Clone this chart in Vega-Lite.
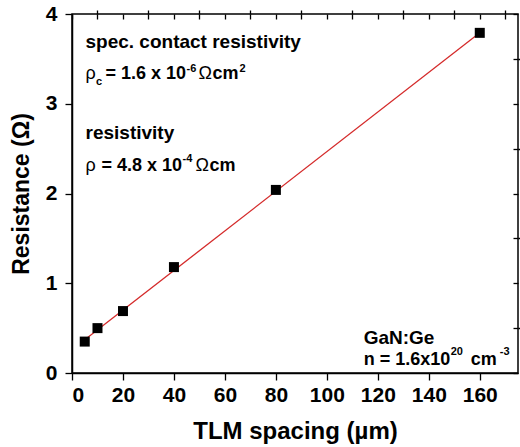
{
  "$schema": "https://vega.github.io/schema/vega-lite/v6.json",
  "width": 446,
  "height": 359,
  "autosize": "none",
  "padding": {"left": 72, "top": 14, "right": 2, "bottom": 74},
  "background": "white",
  "config": {
    "view": {"stroke": "black", "strokeWidth": 1.5},
    "font": "Liberation Sans",
    "axis": {
      "grid": false,
      "domainColor": "black",
      "domainWidth": 1.5,
      "tickColor": "black",
      "tickWidth": 1.3,
      "labelFont": "Liberation Sans",
      "labelFontWeight": "bold",
      "labelFontSize": 21,
      "labelColor": "black",
      "titleFont": "Liberation Sans",
      "titleFontWeight": "bold",
      "titleFontSize": 23,
      "titleColor": "black"
    }
  },
  "datasets": {
    "tlm": [
      {"spacing": 5, "resistance": 0.35},
      {"spacing": 10, "resistance": 0.5},
      {"spacing": 20, "resistance": 0.69},
      {"spacing": 40, "resistance": 1.18},
      {"spacing": 80, "resistance": 2.04},
      {"spacing": 160, "resistance": 3.79}
    ],
    "fit": [
      {"spacing": 5, "resistance": 0.37},
      {"spacing": 160, "resistance": 3.79}
    ],
    "head": [
      {"x": 5.3, "y": 3.62, "t": "spec. contact resistivity"},
      {"x": 5.3, "y": 2.61, "t": "resistivity"},
      {"x": 114.45, "y": 0.32, "t": "GaN:Ge"}
    ],
    "formula": [
      {"x": 13.15, "y": 3.273, "t": "= 1.6 x 10"},
      {"x": 55.16, "y": 3.273, "t": "cm"},
      {"x": 11.58, "y": 2.255, "t": "= 4.8 x 10"},
      {"x": 53.99, "y": 2.255, "t": "cm"},
      {"x": 114.45, "y": 0.094, "t": "n = 1.6x10"},
      {"x": 156.46, "y": 0.094, "t": "cm"}
    ],
    "symbols": [
      {"x": 5.3, "y": 3.273, "t": "ρ"},
      {"x": 49.67, "y": 3.273, "t": "Ω"},
      {"x": 5.3, "y": 2.255, "t": "ρ"},
      {"x": 48.49, "y": 2.255, "t": "Ω"}
    ],
    "small": [
      {"x": 9.42, "y": 3.206, "t": "c"},
      {"x": 44.96, "y": 3.352, "t": "-6"},
      {"x": 65.76, "y": 3.352, "t": "2"},
      {"x": 43.39, "y": 2.355, "t": "-4"},
      {"x": 148.6, "y": 0.205, "t": "20"},
      {"x": 167.85, "y": 0.205, "t": "-3"}
    ]
  },
  "resolve": {"axis": {"x": "independent", "y": "independent"}},
  "layer": [
    {
      "data": {"name": "fit"},
      "mark": {"type": "line", "color": "#d42a2a", "strokeWidth": 1.3},
      "encoding": {
        "x": {
          "field": "spacing", "type": "quantitative",
          "scale": {"domain": [0, 175], "nice": false, "zero": false},
          "axis": {"title": "TLM spacing (µm)", "values": [0, 20, 40, 60, 80, 100, 120, 140, 160], "tickSize": 7, "labelPadding": 4, "titlePadding": 14, "titleFontSize": 24}
        },
        "y": {
          "field": "resistance", "type": "quantitative",
          "scale": {"domain": [0, 4], "nice": false, "zero": false},
          "axis": {"title": "Resistance (Ω)", "values": [0, 1, 2, 3, 4], "tickSize": 7, "labelPadding": 8, "titlePadding": 12}
        }
      }
    },
    {
      "data": {"name": "tlm"},
      "mark": {"type": "square", "size": 100, "color": "black", "opacity": 1, "filled": true},
      "encoding": {
        "x": {
          "field": "spacing", "type": "quantitative",
          "axis": {"title": null, "labels": false, "domain": false, "values": [10, 30, 50, 70, 90, 110, 130, 150, 170], "tickSize": 4}
        },
        "y": {
          "field": "resistance", "type": "quantitative",
          "axis": {"title": null, "labels": false, "domain": false, "values": [0.5, 1.5, 2.5, 3.5], "tickSize": 4}
        }
      }
    },
    {
      "data": {"name": "head"},
      "mark": {"type": "text", "align": "left", "baseline": "alphabetic", "fontSize": 19, "fontWeight": "bold", "color": "black", "font": "Liberation Sans"},
      "encoding": {
        "x": {
          "field": "x", "type": "quantitative",
          "axis": {"orient": "top", "title": null, "labels": false, "domain": false, "values": [0, 10, 20, 30, 40, 50, 60, 70, 80, 90, 100, 110, 120, 130, 140, 150, 160, 170], "tickSize": -5}
        },
        "y": {
          "field": "y", "type": "quantitative",
          "axis": {"orient": "right", "title": null, "labels": false, "domain": false, "values": [0, 0.5, 1, 1.5, 2, 2.5, 3, 3.5, 4], "tickSize": -5}
        },
        "text": {"field": "t"}
      }
    },
    {
      "data": {"name": "formula"},
      "mark": {"type": "text", "align": "left", "baseline": "alphabetic", "fontSize": 18, "fontWeight": "bold", "color": "black", "font": "Liberation Sans"},
      "encoding": {
        "x": {"field": "x", "type": "quantitative", "axis": null},
        "y": {"field": "y", "type": "quantitative", "axis": null},
        "text": {"field": "t"}
      }
    },
    {
      "data": {"name": "symbols"},
      "mark": {"type": "text", "align": "left", "baseline": "alphabetic", "fontSize": 18, "fontWeight": "normal", "color": "black", "font": "Liberation Sans"},
      "encoding": {
        "x": {"field": "x", "type": "quantitative", "axis": null},
        "y": {"field": "y", "type": "quantitative", "axis": null},
        "text": {"field": "t"}
      }
    },
    {
      "data": {"name": "small"},
      "mark": {"type": "text", "align": "left", "baseline": "alphabetic", "fontSize": 11, "fontWeight": "bold", "color": "black", "font": "Liberation Sans"},
      "encoding": {
        "x": {"field": "x", "type": "quantitative", "axis": null},
        "y": {"field": "y", "type": "quantitative", "axis": null},
        "text": {"field": "t"}
      }
    }
  ]
}
